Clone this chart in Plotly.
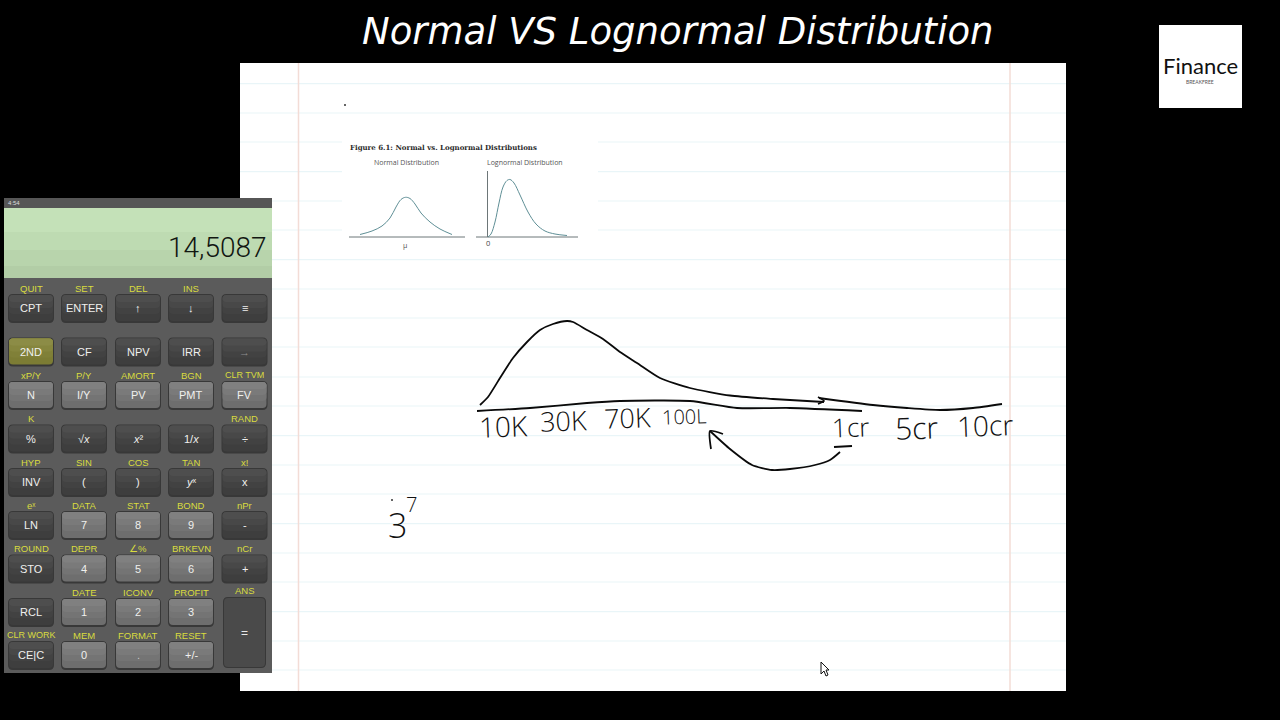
import plotly.graph_objects as go

# calculator keys, row by row
KEY_ROWS = [
    ["CPT", "ENTER", "↑", "↓", "≡"],
    ["2ND", "CF", "NPV", "IRR", "→"],
    ["N", "I/Y", "PV", "PMT", "FV"],
    ["%", "√<i>x</i>", "<i>x</i>²", "1/<i>x</i>", "÷"],
    ["INV", "(", ")", "<i>y</i>ˣ", "x"],
    ["LN", "7", "8", "9", "-"],
    ["STO", "4", "5", "6", "+"],
    ["RCL", "1", "2", "3", "="],
    ["CE|C", "0", ".", "+/-", ""],
]
SECOND_ROWS = [
    ["QUIT", "SET", "DEL", "INS", ""],
    ["", "", "", "", ""],
    ["xP/Y", "P/Y", "AMORT", "BGN", "CLR TVM"],
    ["K", "", "", "", "RAND"],
    ["HYP", "SIN", "COS", "TAN", "x!"],
    ["eˣ", "DATA", "STAT", "BOND", "nPr"],
    ["ROUND", "DEPR", "∠%", "BRKEVN", "nCr"],
    ["", "DATE", "ICONV", "PROFIT", "ANS"],
    ["CLR WORK", "MEM", "FORMAT", "RESET", ""],
]
LIGHT_KEYS = ["N", "I/Y", "PV", "PMT", "FV", "7", "8", "9", "4", "5", "6", "1", "2", "3", "0", ".", "+/-"]
LCD_VALUE = "14,5087"

# strokes, in screen pixels
NORMAL_X = [360, 372, 382, 390, 396, 401, 405.5, 410, 415, 421, 430, 440, 452]
NORMAL_Y = [234.5, 231, 226, 218, 207, 199.5, 197.3, 198.5, 204, 213, 222, 229, 234.5]
LOGN_X = [488, 491, 495, 499, 503, 507, 510, 514, 520, 528, 536, 545, 555, 567]
LOGN_Y = [237, 234, 222, 203, 187, 180.5, 179.5, 183, 195, 212, 224, 231, 234, 235.5]

CURVE_X = [480, 488, 500, 513, 527, 540, 553, 567, 573, 587, 603, 620, 637, 660, 690, 730, 773, 824]
CURVE_Y = [405, 397, 378, 358, 342, 330, 324, 321, 322, 330, 339, 352, 363, 378, 388, 395.5, 399, 402]
TAIL_X = [819, 873, 907, 940, 973, 1002]
TAIL_Y = [398, 405, 408, 410, 408, 404]
TIP_X = [818, 824, 818]
TIP_Y = [397, 401, 404]
BASE_X = [477, 530, 587, 620, 690, 737, 790, 862]
BASE_Y = [411, 408, 403, 401, 401, 408, 408, 411]
LOOP_X = [840, 830, 815, 790, 772, 752, 730, 710]
LOOP_Y = [452, 460, 465, 469, 470, 465, 449, 431]
HEAD_X = [711, 710, 723]
HEAD_Y = [449, 431, 434]
UNDER_X = [834, 852]
UNDER_Y = [447, 446]

HAND_LABELS = ["10K", "30K", "70K", "100L", "1cr", "5cr", "10cr"]
HAND_X = [503, 563, 627, 684, 850, 916, 985]
HAND_Y = [426, 420, 417, 416, 427, 427, 425]

CURSOR_X = [821, 821, 824, 826, 828, 826, 829, 821]
CURSOR_Y = [662, 674, 671, 676, 675, 670, 670, 662]

PAPER_LINES = [83.6, 113, 142, 171.6, 201, 230, 259.6, 289, 318, 347, 377, 406, 435.6, 465, 494, 523.6, 553, 582, 611.6, 641, 670]

COL_X = [31, 84, 138, 191, 244.5]
ROW_Y = [308, 351.5, 395, 438.5, 482, 525, 568.5, 612, 655]
HAND_SIZES = [28, 27, 27, 20, 26, 30, 28]

shapes = []
texts = []


def rect(x0, y0, x1, y1, color):
    shapes.append(dict(type="rect", x0=x0, y0=y0, x1=x1, y1=y1, fillcolor=color, line=dict(width=0), layer="below"))


def round_rect(x0, y0, x1, y1, color, r=4):
    path = (
        f"M{x0 + r},{y0} L{x1 - r},{y0} Q{x1},{y0} {x1},{y0 + r} L{x1},{y1 - r} Q{x1},{y1} {x1 - r},{y1} "
        f"L{x0 + r},{y1} Q{x0},{y1} {x0},{y1 - r} L{x0},{y0 + r} Q{x0},{y0} {x0 + r},{y0} Z"
    )
    shapes.append(dict(type="path", path=path, fillcolor=color, line=dict(width=0), layer="below"))


def label(x, y, text, size, color, font="Liberation Sans", anchor="center", angle=0, weight=None):
    texts.append(dict(
        x=x, y=y, text=text, showarrow=False, xanchor=anchor, yanchor="middle", textangle=angle,
        font=dict(family=font, size=size, color=color, weight=weight),
    ))


def draw_key(cx, cy, text, w=22, h=13):
    if text == "2ND":
        bands = ["#7c7c34", "#808038", "#86863e", "#8c8c46"]
    elif text in LIGHT_KEYS:
        bands = ["#6e6e6e", "#747474", "#7a7a7a", "#808080"]
    else:
        bands = ["#3e3e3e", "#424242", "#484848", "#4e4e4e"]
    round_rect(cx - w - 1, cy - h - 1, cx + w + 1, cy + h + 2, "#383838", 5)
    round_rect(cx - w, cy - h, cx + w, cy + h, bands[0])
    round_rect(cx - w, cy - h, cx + w, cy + 6, bands[1])
    round_rect(cx - w, cy - h, cx + w, cy, bands[2])
    round_rect(cx - w, cy - h, cx + w, cy - 6, bands[3])


# paper
rect(240, 63, 1066, 691, "#ffffff")
for y in PAPER_LINES:
    shapes.append(dict(type="line", x0=240, x1=1066, y0=y, y1=y, line=dict(color="#e9f5f8", width=1.2), layer="below"))
for x in [298.5, 1010]:
    shapes.append(dict(type="line", x0=x, x1=x, y0=63, y1=691, line=dict(color="#f3dcd6", width=1.5), layer="below"))

# pasted figure sits on a white patch
rect(342, 120, 598, 254, "#ffffff")
shapes.append(dict(type="line", x0=349, x1=465, y0=237, y1=237, line=dict(color="#6d7678", width=1), layer="below"))
shapes.append(dict(type="line", x0=476, x1=578, y0=237, y1=237, line=dict(color="#6d7678", width=1), layer="below"))
shapes.append(dict(type="line", x0=487.5, x1=487.5, y0=171, y1=237, line=dict(color="#6d7678", width=1), layer="below"))

# logo
rect(1159, 25, 1242, 108, "#ffffff")

# calculator
rect(4, 198, 272, 673, "#5b5b5b")
rect(4, 198, 272, 208, "#565656")
rect(4, 208, 272, 278, "#c4e1b8")
rect(4, 232, 272, 278, "#bedbb2")
rect(4, 250, 272, 278, "#b8d4ac")
rect(4, 266, 272, 278, "#b2cda6")

for row, cy in zip(KEY_ROWS, ROW_Y):
    for key, cx in zip(row, COL_X):
        if key == "=":
            round_rect(223, 597, 266, 668, "#383838", 5)
            round_rect(224, 598, 265, 667, "#4a4a4a", 4)
            label(cx, 633, "=", 12, "#e8e8e8")
        elif key:
            draw_key(cx, cy, key)
            color = "#8f8f8f" if key == "→" else ("#f0f0ee" if key != "." else "#c8c8c8")
            label(cx, cy, key, 11, color)

for row, cy in zip(SECOND_ROWS, ROW_Y):
    for sec, cx in zip(row, COL_X):
        if sec:
            y = cy - 20 if sec != "ANS" else cy - 22
            size = 9 if len(sec) > 6 else 9.5
            label(cx, y, sec, size, "#d9dc3e")

label(6, 203, "4:54", 6, "#dddddd", anchor="left")
label(269, 247, LCD_VALUE, 28, "#111611", font="Roboto", anchor="right", weight=300)

# title and printed figure text
label(678, 31, "Normal VS Lognormal Distribution", 37, "#ffffff", font="DejaVu Sans")
texts[-1]["font"]["style"] = "italic"
label(347.5, 147.5, "<b>Figure 6.1: Normal vs. Lognormal Distributions</b>", 7, "#2b2b2b", font="DejaVu Serif", anchor="left")
label(406.5, 162, "Normal Distribution", 7, "#555555", font="Open Sans")
label(524.5, 162, "Lognormal Distribution", 7, "#555555", font="Open Sans")
label(405, 245, "μ", 7, "#555555", font="Open Sans")
label(487.5, 243, "0", 7.5, "#444444", font="Open Sans")

# logo text
label(1200, 65.5, "Finance", 22, "#111111", font="Lato")
label(1200, 81.5, "BREAKFREE", 5, "#555555", font="Lato")

# handwriting
for text, x, y, size in zip(HAND_LABELS, HAND_X, HAND_Y, HAND_SIZES):
    label(x, y, text, size, "#111111", font="Open Sans", angle=-2, weight=300)
label(397, 525, "3", 34, "#111111", font="Open Sans", weight=300)
label(411, 504, "7", 20, "#111111", font="Open Sans", weight=300)

fig = go.Figure()

# printed curves
for xs, ys in [(NORMAL_X, NORMAL_Y), (LOGN_X, LOGN_Y)]:
    fig.add_trace(go.Scatter(x=xs, y=ys, mode="lines", line=dict(color="#5f8f96", width=1, shape="spline"), hoverinfo="skip"))

# pen strokes
for xs, ys in [
    (CURVE_X, CURVE_Y), (TAIL_X, TAIL_Y), (TIP_X, TIP_Y), (BASE_X, BASE_Y),
    (LOOP_X, LOOP_Y), (HEAD_X, HEAD_Y), (UNDER_X, UNDER_Y),
]:
    fig.add_trace(go.Scatter(x=xs, y=ys, mode="lines", line=dict(color="#0a0a0a", width=1.8, shape="spline", smoothing=0.6), hoverinfo="skip"))

# stray dots
fig.add_trace(go.Scatter(x=[345, 392], y=[105, 500], mode="markers", marker=dict(color="#333333", size=2), hoverinfo="skip"))

# mouse pointer
fig.add_trace(go.Scatter(
    x=CURSOR_X, y=CURSOR_Y, mode="lines", fill="toself", fillcolor="#ffffff",
    line=dict(color="#111111", width=1), hoverinfo="skip",
))

fig.update_layout(
    width=1280, height=720, margin=dict(l=0, r=0, t=0, b=0),
    paper_bgcolor="#000000", plot_bgcolor="#000000", showlegend=False,
    xaxis=dict(range=[0, 1280], visible=False, fixedrange=True),
    yaxis=dict(range=[720, 0], visible=False, fixedrange=True),
    shapes=shapes, annotations=texts,
)

fig.write_html("out.html", config=dict(displayModeBar=False), post_script="document.body.style.margin='0';document.body.style.background='#000';")
